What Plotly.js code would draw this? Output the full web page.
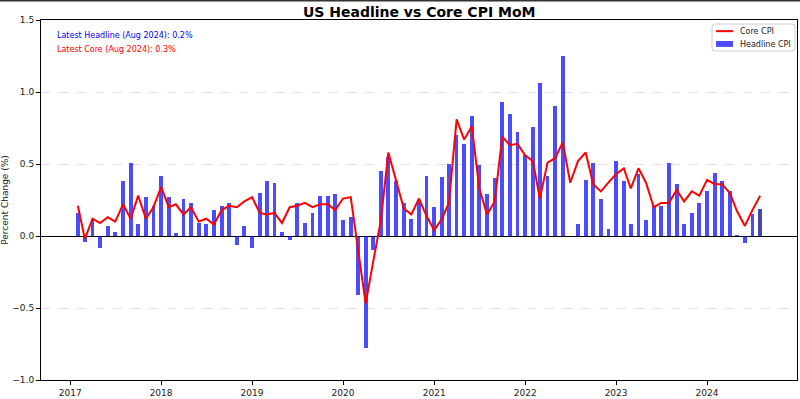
<!DOCTYPE html>
<html>
<head>
<meta charset="utf-8">
<script src="https://cdn.plot.ly/plotly-3.0.1.min.js"></script>
<style>html,body{margin:0;padding:0;background:#fff}#chart{width:800px;height:399px}</style>
</head>
<body>
<div id="chart"></div>
<script>
// Monthly % change, Feb 2017 .. Aug 2024
const startMonth = "2017-02";
const headlineCPI = [
  0.16, -0.04, 0.12, -0.08, 0.07, 0.03, 0.38, 0.51, 0.08, 0.27, 0.21,
  0.42, 0.27, 0.02, 0.26, 0.23, 0.09, 0.08, 0.18, 0.21, 0.23, -0.06, 0.07,
  -0.08, 0.30, 0.38, 0.37, 0.03, -0.03, 0.23, 0.09, 0.16, 0.28, 0.28, 0.29,
  0.11, 0.13, -0.41, -0.78, -0.10, 0.45, 0.55, 0.38, 0.23, 0.12, 0.24, 0.42,
  0.20, 0.41, 0.50, 0.70, 0.64, 0.83, 0.49, 0.29, 0.40, 0.93, 0.85, 0.72,
  0.56, 0.76, 1.06, 0.42, 0.90, 1.25, 0.00, 0.08, 0.39, 0.51, 0.26, 0.05,
  0.52, 0.38, 0.08, 0.43, 0.11, 0.21, 0.21, 0.51, 0.36, 0.08, 0.16, 0.23,
  0.31, 0.44, 0.38, 0.31, 0.01, -0.05, 0.15, 0.19
];
const coreCPI = [
  0.21, -0.02, 0.12, 0.09, 0.13, 0.10, 0.22, 0.12, 0.28, 0.12, 0.20,
  0.34, 0.20, 0.22, 0.15, 0.20, 0.10, 0.12, 0.08, 0.18, 0.21, 0.20, 0.24,
  0.27, 0.16, 0.15, 0.16, 0.09, 0.20, 0.21, 0.23, 0.20, 0.22, 0.22, 0.18,
  0.26, 0.27, -0.10, -0.47, -0.18, 0.11, 0.58, 0.38, 0.19, 0.15, 0.26, 0.14,
  0.04, 0.12, 0.23, 0.81, 0.67, 0.76, 0.33, 0.15, 0.24, 0.69, 0.63, 0.64,
  0.56, 0.52, 0.26, 0.51, 0.54, 0.65, 0.37, 0.52, 0.58, 0.36, 0.31, 0.37,
  0.43, 0.47, 0.33, 0.47, 0.37, 0.20, 0.23, 0.23, 0.32, 0.24, 0.31, 0.28,
  0.39, 0.36, 0.36, 0.30, 0.17, 0.07, 0.18, 0.28
];
const seriesNames = ["Core CPI", "Headline CPI"];
const yTickVals = [-1.0, -0.5, 0.0, 0.5, 1.0, 1.5];
const xTickVals = ["2017-01-01","2018-01-01","2019-01-01","2020-01-01","2021-01-01","2022-01-01","2023-01-01","2024-01-01"];
const xTickText = ["2017","2018","2019","2020","2021","2022","2023","2024"];
const latestHeadlineText = "Latest Headline (Aug 2024): 0.2%";
const latestCoreText = "Latest Core (Aug 2024): 0.3%";

// month dates
const months = [];
{
  let y = parseInt(startMonth.slice(0,4)), m = parseInt(startMonth.slice(5,7));
  for (let i = 0; i < headlineCPI.length; i++) {
    months.push(y + "-" + String(m).padStart(2,"0") + "-01");
    m++; if (m > 12) { m = 1; y++; }
  }
}
const BLUE = "rgba(0,0,255,0.7)";
const RED = "#ff0000";
const barColors = headlineCPI.map((v,i) => i === headlineCPI.length-1 ? "rgba(40,40,150,0.85)" : BLUE);

const font = "DejaVu Sans, Arial, sans-serif";
const traces = [
  {type:"scatter", mode:"lines", x:months, y:coreCPI, name:seriesNames[0],
   line:{color:RED, width:2}, showlegend:false},
  {type:"bar", x:months, y:headlineCPI, name:seriesNames[1],
   marker:{color:barColors, line:{width:0}}, width:15*86400000, showlegend:false}
];

// legend box (matplotlib style) in paper coordinates
const lx0 = 0.8876, lx1 = 0.9974, ly0 = 0.9139, ly1 = 0.9889, rx = 0.004, ry = 0.0083;
const legendPath = `M ${lx0+rx},${ly0} L ${lx1-rx},${ly0} Q ${lx1},${ly0} ${lx1},${ly0+ry} L ${lx1},${ly1-ry} Q ${lx1},${ly1} ${lx1-rx},${ly1} L ${lx0+rx},${ly1} Q ${lx0},${ly1} ${lx0},${ly1-ry} L ${lx0},${ly0+ry} Q ${lx0},${ly0} ${lx0+rx},${ly0} Z`;

const layout = {
  width:800, height:399,
  margin:{l:41, r:3, t:20, b:19},
  paper_bgcolor:"#fff", plot_bgcolor:"#fff",
  font:{family:font, size:10, color:"#222"},
  title:{text:"<b>US Headline vs Core CPI MoM</b>", font:{family:font, size:14, color:"#000"},
         x:0.524, xanchor:"center", y:0.97, yanchor:"middle"},
  showlegend:false,
  xaxis:{type:"date", range:["2016-09-06","2024-12-27"], tickvals:xTickVals, ticktext:xTickText,
         showgrid:false, zeroline:false, ticks:"outside", ticklen:4, tickcolor:"#000",
         showline:true, linecolor:"#000", linewidth:1, mirror:true,
         tickfont:{family:font, size:9, color:"#222"}},
  yaxis:{range:[-1.0, 1.5], tickvals:yTickVals, tickformat:".1f",
         showgrid:true, gridcolor:"#d8d8d8", griddash:"dash", gridwidth:0.8,
         zeroline:true, zerolinecolor:"#000", zerolinewidth:1,
         ticks:"outside", ticklen:4, tickcolor:"#000",
         showline:true, linecolor:"#000", linewidth:1, mirror:true,
         tickfont:{family:font, size:9, color:"#222"},
         title:{text:"Percent Change (%)", font:{family:font, size:9, color:"#222"}, standoff:6}},
  annotations:[
    {xref:"paper", yref:"paper", x:0.019, y:0.956, xanchor:"left", yanchor:"middle", showarrow:false,
     text:latestHeadlineText, font:{family:font, size:8, color:"#0000ff"}},
    {xref:"paper", yref:"paper", x:0.019, y:0.917, xanchor:"left", yanchor:"middle", showarrow:false,
     text:latestCoreText, font:{family:font, size:8, color:"#ff0000"}},
    {xref:"paper", yref:"paper", x:0.922, y:0.969, xanchor:"left", yanchor:"middle", showarrow:false,
     text:seriesNames[0], font:{family:font, size:8, color:"#222"}},
    {xref:"paper", yref:"paper", x:0.922, y:0.933, xanchor:"left", yanchor:"middle", showarrow:false,
     text:seriesNames[1], font:{family:font, size:8, color:"#222"}}
  ],
  shapes:[
    {type:"line", xref:"paper", yref:"paper", x0:-0.06, x1:1.01, y0:1.0542, y1:1.0542,
     line:{color:"#333", width:2}},
    {type:"path", xref:"paper", yref:"paper", path:legendPath,
     fillcolor:"rgba(255,255,255,0.8)", line:{color:"#cccccc", width:1}},
    {type:"line", xref:"paper", yref:"paper", x0:0.8929, x1:0.9153, y0:0.969, y1:0.969,
     line:{color:RED, width:2}},
    {type:"rect", xref:"paper", yref:"paper", x0:0.8929, x1:0.9153, y0:0.9253, y1:0.9417,
     fillcolor:BLUE, line:{width:0}}
  ],
  bargap:0
};
Plotly.newPlot("chart", traces, layout, {displayModeBar:false, staticPlot:true});
</script>
</body>
</html>
